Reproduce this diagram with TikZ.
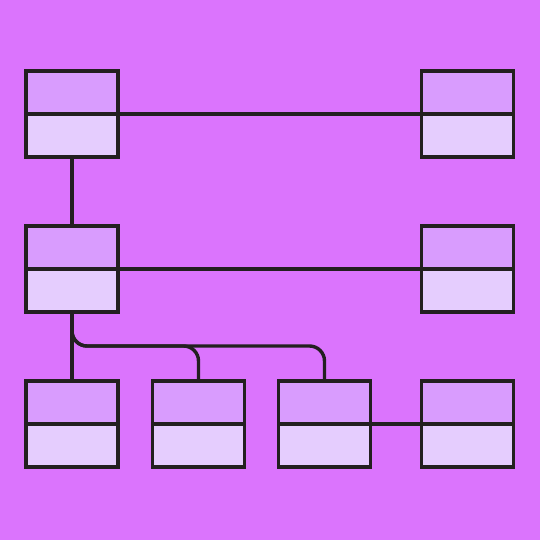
\documentclass[tikz,border=0pt]{standalone}
\usepackage{xcolor}
\usetikzlibrary{calc}
\definecolor{bgpurple}{HTML}{DB74FD}
\definecolor{toppurple}{HTML}{D99CFE}
\definecolor{lowpurple}{HTML}{E5CDFE}
\definecolor{inkline}{HTML}{231F20}
\tikzset{
    tablebox/.style={draw=inkline, line width=3.6pt, fill=lowpurple,
        minimum width=92pt, minimum height=86pt, inner sep=0pt, outer sep=0pt,
        path picture={
            \fill[toppurple] (path picture bounding box.north west) rectangle (path picture bounding box.east);
            \draw[inkline, line width=3.6pt] (path picture bounding box.west) -- (path picture bounding box.east);
        }},
    link/.style={draw=inkline, line width=3.4pt}
}

\begin{document}
\begin{tikzpicture}[x=1pt, y=-1pt]
                                \fill[bgpurple] (0, 0) rectangle (540, 540);
                                \useasboundingbox (0, 0) rectangle (540, 540);
                                \foreach \name/\x/\y in {top/72/114, topright/467.5/114, mid/72/269, midright/467.5/269,
                                                         low/72/424, lowtwo/198.5/424, lowthree/324.5/424, lowright/467.5/424} {
                                    \node[tablebox] (\name) at (\x, \y) {};
                                }
                                \coordinate (bus) at (72, 346);
                                \draw[link] (top.east) -- (topright.west);
                                \draw[link] (top.south) -- (mid.north);
                                \draw[link] (mid.east) -- (midright.west);
                                \draw[link] (mid.south) -- (low.north);
                                \draw[link, rounded corners=15pt] (mid.south) |- (bus) -| (lowtwo.north);
                                \draw[link, rounded corners=15pt] (mid.south) |- (bus) -| (lowthree.north);
                                \draw[link] (lowthree.east) -- (lowright.west);
                            \end{tikzpicture}
\end{document}
